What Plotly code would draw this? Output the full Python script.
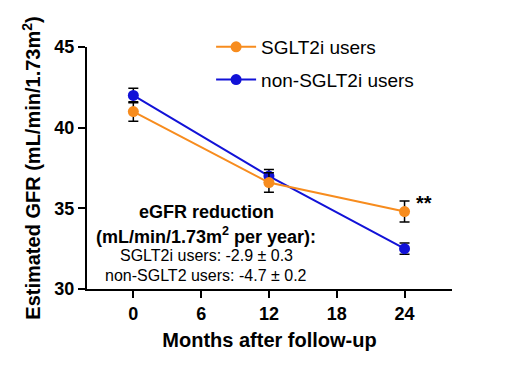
import plotly.graph_objects as go

months = [0, 12, 24]
sglt2i_mean = [41.0, 36.6, 34.8]
sglt2i_err = [0.6, 0.6, 0.65]
non_mean = [42.0, 37.0, 32.5]
non_err = [0.45, 0.4, 0.35]
x_ticks = [0, 6, 12, 18, 24]
y_ticks = [30, 35, 40, 45]

ORANGE = "rgb(247,140,30)"
BLUE = "rgb(18,18,215)"
FONT = "Liberation Sans, Arial, sans-serif"

fig = go.Figure()
fig.add_trace(go.Scatter(
    x=months, y=non_mean, name="non-SGLT2i users", mode="lines+markers",
    line=dict(color=BLUE, width=2), marker=dict(color=BLUE, size=11),
    error_y=dict(type="data", array=non_err, color="black", thickness=1.5, width=5),
    legendgroup="non", legendrank=2,
))
fig.add_trace(go.Scatter(
    x=months, y=sglt2i_mean, name="SGLT2i users", mode="lines+markers",
    line=dict(color=ORANGE, width=2), marker=dict(color=ORANGE, size=11),
    error_y=dict(type="data", array=sglt2i_err, color="black", thickness=1.5, width=5),
    legendgroup="sglt", legendrank=1,
))

fig.add_annotation(x=months[2], y=sglt2i_mean[2] + 0.5, xref="x", yref="y",
                   text="<b>**</b>", showarrow=False, xanchor="left", xshift=9,
                   font=dict(size=20, color="black", family=FONT))

ann_x = (206 - 87) / 365
def py(screen_y):
    return (289 - screen_y) / 242

for txt, sy, sz in [("<b>eGFR reduction</b>", 212, 18),
                    ("<b>(mL/min/1.73m<sup>2</sup> per year):</b>", 235, 18),
                    ("SGLT2i users: -2.9 ± 0.3", 255, 16),
                    ("non-SGLT2 users: -4.7 ± 0.2", 275, 16)]:
    fig.add_annotation(x=ann_x, y=py(sy), xref="paper", yref="paper", showarrow=False,
                       xanchor="center", yanchor="middle",
                       text=txt, font=dict(size=sz, color="black", family=FONT))

fig.update_layout(
    width=507, height=371,
    margin=dict(l=79, r=63, t=39, b=90),
    paper_bgcolor="white", plot_bgcolor="white",
    font=dict(family=FONT, color="black"),
    showlegend=True,
    legend=dict(x=0.34, y=1.0785, xanchor="left", yanchor="top",
                font=dict(size=19, color="black", family=FONT),
                bgcolor="rgba(0,0,0,0)", itemwidth=40, tracegroupgap=5,
                traceorder="grouped"),
    xaxis=dict(range=[-4.1, 28.2], tickvals=x_ticks, ticktext=[str(v) for v in x_ticks],
               showgrid=False, zeroline=False, showline=True, linecolor="black", linewidth=2,
               ticks="outside", ticklen=7, tickwidth=2, tickcolor="black",
               tickfont=dict(size=18, family=FONT, weight="bold"),
               title=dict(text="<b>Months after follow-up</b>", font=dict(size=20, family=FONT), standoff=10)),
    yaxis=dict(range=[30, 45], tickvals=y_ticks, ticktext=[str(v) for v in y_ticks],
               showgrid=False, zeroline=False, showline=True, linecolor="black", linewidth=2,
               ticks="outside", ticklen=7, tickwidth=2, tickcolor="black",
               tickfont=dict(size=18, family=FONT, weight="bold"),
               title=dict(text="<b>Estimated GFR (mL/min/1.73m<sup>2</sup>)</b>", font=dict(size=20, family=FONT), standoff=8)),
)

fig.write_html("out.html")
